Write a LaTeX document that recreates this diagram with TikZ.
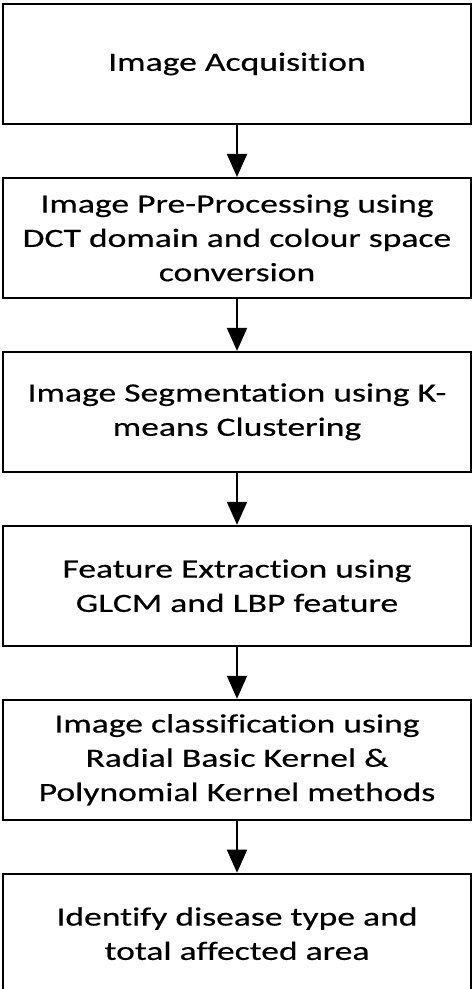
\documentclass[tikz,border=0pt]{standalone}
\usepackage{fontspec}
\setmainfont{Carlito}[FakeStretch=1.35,FakeBold=0.4,Ligatures=NoCommon]
\usetikzlibrary{positioning,arrows.meta}

\begin{document}
\begin{tikzpicture}[stage/.style={draw,line width=1.1pt,minimum width=9.36cm,minimum height=2.4cm,inner sep=0pt,align=center,font=\fontsize{15}{19.5}\selectfont},flow/.style={-{Triangle[width=0.4cm,length=0.46cm]},line width=1.1pt},node distance=1.04cm] %
    \useasboundingbox (0,0) rectangle (9.48,-19.78); %
    \node[stage] (acq) at (4.74,-1.28) {Image Acquisition} ; %
    \node[stage, below=of acq] (pre) {Image Pre-Processing using\\DCT domain and colour space\\conversion} ; %
    \node[stage, below=of pre] (seg) {Image Segmentation using K-\\means Clustering} ; %
    \node[stage, below=of seg] (feat) {Feature Extraction using\\GLCM and LBP feature};
    \node[stage, below=of feat] (cls) {Image classification using\\Radial Basic Kernel \&\\Polynomial Kernel methods};
    \node[stage, below=of cls] (area) {Identify disease type and\\total affected area};
    \draw[flow] (acq)--(pre) ; %
    \draw[flow] (pre)--(seg);
    \draw[flow] (seg)--(feat);
    \draw[flow] (feat)--(cls);
    \draw[flow] (cls)--(area);
  \end{tikzpicture}
\end{document}
